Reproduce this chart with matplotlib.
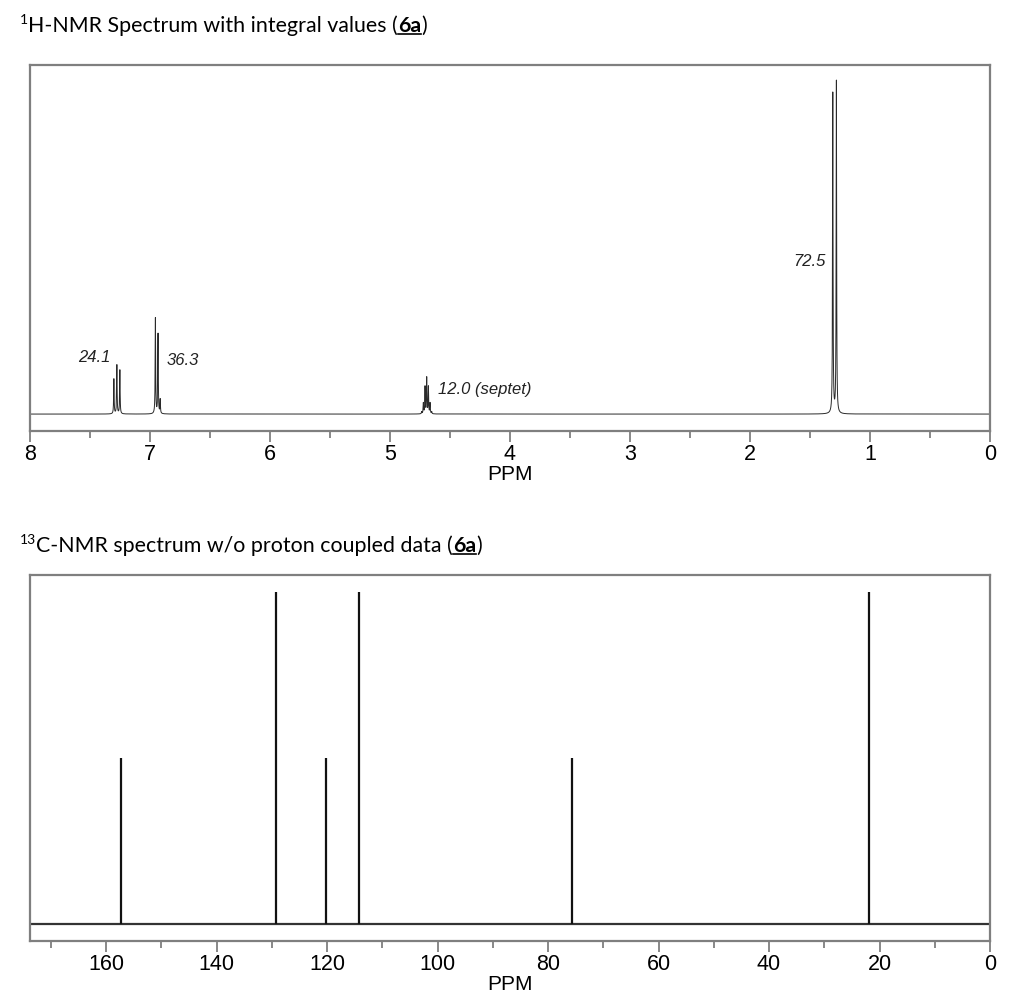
import numpy as np
import matplotlib
matplotlib.use('Agg')
import matplotlib.pyplot as plt
from matplotlib.lines import Line2D
from matplotlib.ticker import MultipleLocator

plt.rcParams['font.family'] = ['Liberation Sans', 'DejaVu Sans']

# 1H lines: shift (ppm) and relative height (tallest = 100)
h_shift = [7.301, 7.276, 7.251,
           6.955, 6.933, 6.915,
           4.736, 4.722, 4.708, 4.694, 4.680, 4.666, 4.652,
           1.310, 1.280]
h_height = [10.5, 14.7, 13.2,
            28.8, 24.0, 4.2,
            0.6, 3.2, 8.1, 10.8, 8.1, 3.2, 0.6,
            96.4, 100.0]
h_linewidth = 0.0023  # lorentzian half width, ppm

# integral values written next to the multiplets
h_integrals = ['24.1', '36.3', '12.0 (septet)', '72.5']

# 13C lines (proton decoupled, stick spectrum)
c_shift = [157.4, 129.2, 120.2, 114.3, 75.6, 21.9]
c_height = [50, 100, 50, 100, 50, 100]

W, H = 1024, 1006
fig = plt.figure(figsize=(W / 100, H / 100), dpi=100)


def px_axes(left, top, right, bottom):
    return fig.add_axes([left / W, 1 - bottom / H, (right - left) / W, (bottom - top) / H])


def style_axis(ax, major, minor):
    for s in ax.spines.values():
        s.set_color('#7f7f7f')
        s.set_linewidth(1.6)
    ax.set_yticks([])
    ax.xaxis.set_major_locator(MultipleLocator(major))
    ax.xaxis.set_minor_locator(MultipleLocator(minor))
    ax.tick_params(axis='x', which='major', direction='out', length=8, width=1.3,
                   color='#7f7f7f', labelcolor='black', labelsize=15.5, pad=1)
    ax.tick_params(axis='x', which='minor', direction='out', length=5, width=1.3,
                   color='#7f7f7f')
    ax.set_xlabel('PPM', fontsize=15, labelpad=0)
    ax.set_ylim(-5.1, 105.1)


# --- 1H spectrum ---
ax1 = px_axes(30, 65, 990, 431)
ppm = np.arange(0, 8.0001, 0.0002)
spec = np.zeros_like(ppm)
for d, hgt in zip(h_shift, h_height):
    spec += hgt * h_linewidth**2 / ((ppm - d)**2 + h_linewidth**2)
ax1.plot(ppm, spec, color='#2a2a2a', lw=0.7)
ax1.set_xlim(8, 0)
style_axis(ax1, 1, 0.5)

lab_pos = [(7.33, 17.0, 'right'), (6.86, 16.1, 'left'), (4.60, 7.4, 'left'), (1.368, 46.0, 'right')]
for txt, (x, y, ha) in zip(h_integrals, lab_pos):
    ax1.text(x, y, txt, ha=ha, va='center', fontsize=12, style='italic', color='#222222')

# --- 13C spectrum ---
ax2 = px_axes(30, 575, 990, 941)
ax2.axhline(0, color='#333333', lw=1.6)
ax2.vlines(c_shift, 0, c_height, color='#111111', lw=1.6)
ax2.set_xlim(173.8, 0)
style_axis(ax2, 20, 10)


# titles: superscript + text + underlined bold compound number
def rich_title(x_px, base_px, pieces):
    r = fig.canvas.get_renderer()
    x = x_px
    for text, size, bold, underline, rise in pieces:
        t = fig.text(x / W, 1 - (base_px - rise) / H, text, fontsize=size,
                     fontweight='bold' if bold else 'normal', family='Lato', va='baseline')
        bb = t.get_window_extent(r)
        if underline:
            yl = 1 - (base_px + 2.5) / H
            fig.add_artist(Line2D([bb.x0 / W, bb.x1 / W], [yl, yl], color='black', lw=1.2,
                                  transform=fig.transFigure))
        x += bb.width


fs = 15.4
rich_title(20, 31.5, [('1', 10, False, False, 7), ('H-NMR Spectrum with integral values (', fs, False, False, 0),
                      ('6a', fs, True, True, 0), (')', fs, False, False, 0)])
rich_title(20, 551.5, [('13', 10, False, False, 7), ('C-NMR spectrum w/o proton coupled data (', fs, False, False, 0),
                       ('6a', fs, True, True, 0), (')', fs, False, False, 0)])

fig.savefig('out.png', dpi=100)
